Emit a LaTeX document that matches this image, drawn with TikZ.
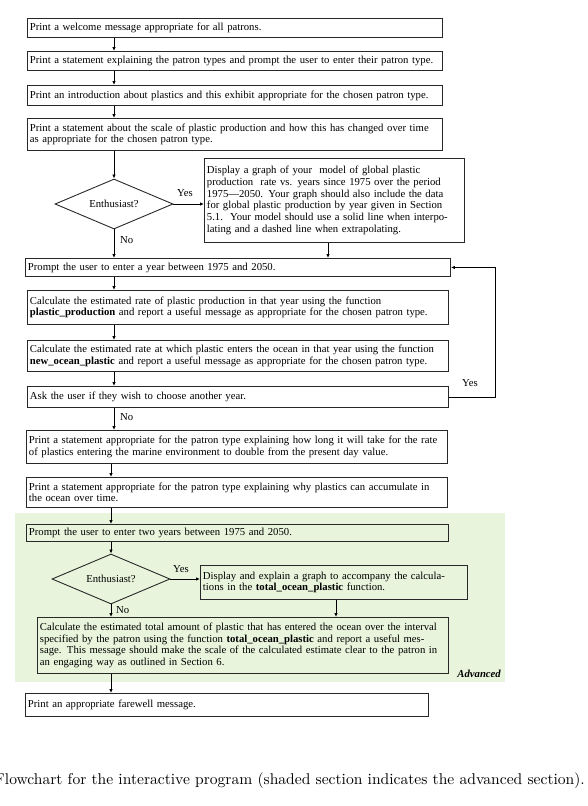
\documentclass[tikz,border=0pt]{standalone}
\usepackage{fontspec}
\usepackage{graphicx}
\newfontfamily\tms[Ligatures=TeX]{Liberation Serif}
\usetikzlibrary{shapes.geometric,arrows.meta}
\definecolor{advgreen}{RGB}{232,245,220}
\definecolor{boxline}{RGB}{40,40,40}
\tikzset{
 fbox/.style={draw=boxline, line width=0.9pt, inner xsep=2.5pt, inner ysep=0pt, anchor=north west, font=\tms\fontsize{10.7}{11.7}\selectfont, align=left},
 fdia/.style={draw=boxline, line width=0.9pt, diamond, shape aspect=2.36, minimum width=118pt, minimum height=50pt, inner sep=0pt, font=\tms\fontsize{10.7}{11.7}\selectfont},
 flow/.style={draw=black, line width=0.8pt, -{Latex[length=4pt,width=3.5pt]}},
 lbl/.style={font=\tms\fontsize{10.7}{12}\selectfont, inner sep=0pt},
}
\newcommand\fbx[7][left]{\pgfmathsetmacro\bw{#5-#3}\pgfmathsetmacro\bh{#6-#4}\pgfmathsetmacro\tw{#5-#3-5}\node[fbox, align=#1, minimum width=\bw pt, minimum height=\bh pt, text width=\tw pt] (#2) at (#3,#4) {#7};}
\begin{document}
\begin{tikzpicture}[x=1pt,y=-1pt]
\useasboundingbox (0,0) rectangle (587,806);
\fill[advgreen] (15,513) rectangle (505,682);
\coordinate (cA) at (114,0);
\coordinate (cB) at (111,0);
\coordinate (cG) at (328,0);
\coordinate (cH) at (336,0);
\fbx{b1}{27}{18}{442}{37}{Print a welcome message appropriate for all patrons.}
\fbx{b2}{27}{51}{442}{70}{Print a statement explaining the patron types and prompt the user to enter their patron type.}
\fbx{b3}{27}{85}{442}{105}{Print an introduction about plastics and this exhibit appropriate for the chosen patron type.}
\fbx{b4}{27}{118}{442}{150}{Print a statement about the scale of plastic production and how this has changed over time\\as appropriate for the chosen patron type.}
\node[fdia] (d1) at (114,204) {Enthusiast?};
\fbx{g1}{204}{158}{464}{242}{Display a graph of your\ \ model of global plastic\\production\ \ rate vs. years since 1975 over the period\\1975—2050. Your graph should also include the data\\for global plastic production by year given in Section\\5.1.\ \ Your model should use a solid line when interpo-\\lating and a dashed line when extrapolating.}
\fbx{p1}{25}{258}{450}{276}{Prompt the user to enter a year between 1975 and 2050.}
\fbx{c1}{27}{290}{448}{324}{Calculate the estimated rate of plastic production in that year using the function\\\textbf{plastic\_production} and report a useful message as appropriate for the chosen patron type.}
\fbx{c2}{27}{340}{448}{371}{Calculate the estimated rate at which plastic enters the ocean in that year using the function\\\textbf{new\_ocean\_plastic} and report a useful message as appropriate for the chosen patron type.}
\fbx{a1}{27}{386}{448}{407}{Ask the user if they wish to choose another year.}
\fbx{s1}{26}{430}{447}{463}{Print a statement appropriate for the patron type explaining how long it will take for the rate\\of plastics entering the marine environment to double from the present day value.}
\fbx{s2}{26}{477}{447}{507}{Print a statement appropriate for the patron type explaining why plastics can accumulate in\\the ocean over time.}
\fbx{p2}{26}{524}{448}{541}{Prompt the user to enter two years between 1975 and 2050.}
\node[fdia] (d2) at (111,579) {Enthusiast?};
\fbx{g2}{200}{565}{467}{599}{Display and explain a graph to accompany the calcula-\\tions in the \textbf{total\_ocean\_plastic} function.}
\fbx{t1}{37}{617}{448}{673}{Calculate the estimated total amount of plastic that has entered the ocean over the interval\\specified by the patron using the function \textbf{total\_ocean\_plastic} and report a useful mes-\\sage. This message should make the scale of the calculated estimate clear to the patron in\\an engaging way as outlined in Section 6.}
\fbx{f1}{25}{693}{428}{716}{Print an appropriate farewell message.}
\node[anchor=base east, inner sep=0pt, font=\tms\bfseries\itshape\fontsize{10.7}{12}\selectfont] (adv) at (501,677) {Advanced};
% labels
\node[lbl] (y1) at (185,193) {Yes};
\node[lbl, anchor=west] (n1) at (120,240) {No};
\node[lbl] (y2) at (470,383) {Yes};
\node[lbl, anchor=west] (n2) at (120,417) {No};
\node[lbl] (y3) at (181,569) {Yes};
\node[lbl, anchor=west] (n3) at (116,610) {No};
% connectors
\draw[flow] (b1.south -| cA) -- (b2.north -| cA);
\draw[flow] (b2.south -| cA) -- (b3.north -| cA);
\draw[flow] (b3.south -| cA) -- (b4.north -| cA);
\draw[flow] (b4.south -| cA) -- (d1.north);
\draw[flow] (d1.east) -- (d1.east -| g1.west);
\draw[flow] (d1.south) -- (d1.south |- p1.north);
\draw[flow] (g1.south -| cG) -- (p1.north -| cG);
\draw[flow] (p1.south -| cA) -- (c1.north -| cA);
\draw[flow] (c1.south -| cA) -- (c2.north -| cA);
\draw[flow] (c2.south -| cA) -- (a1.north -| cA);
\draw[flow] (a1.east) -- ++(46,0) |- (p1.east);
\draw[flow] (a1.south -| cA) -- (s1.north -| cA);
\draw[flow] (s1.south -| cB) -- (s2.north -| cB);
\draw[flow] (s2.south -| cB) -- (p2.north -| cB);
\draw[flow] (p2.south -| cB) -- (d2.north);
\draw[flow] (d2.east) -- (d2.east -| g2.west);
\draw[flow] (d2.south) -- (d2.south |- t1.north);
\draw[flow] (g2.south -| cH) -- (t1.north -| cH);
\draw[flow] (t1.south -| cB) -- (f1.north -| cB);
% caption
\node[anchor=base east, inner sep=0pt] (cap) at (585,784) {\resizebox{590pt}{!}{\fontsize{10}{12}\selectfont Flowchart for the interactive program (shaded section indicates the advanced section).}};
\end{tikzpicture}
\end{document}
